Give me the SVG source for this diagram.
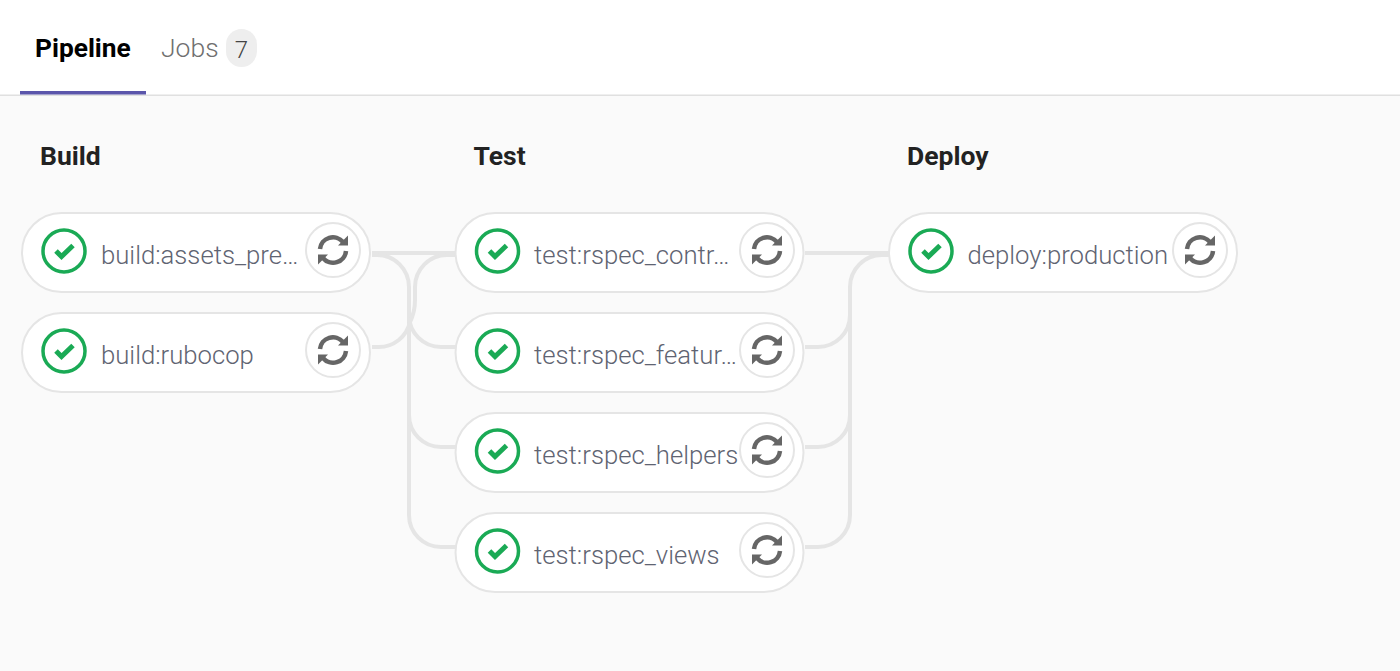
<svg xmlns="http://www.w3.org/2000/svg" width="1400" height="671" viewBox="0 0 1400 671">
  <defs>
    <style>
      text { font-family: Roboto, "Liberation Sans", sans-serif; }
      .stage { font-size: 26.500px; font-weight: 700; fill: #222222; }
      .job { font-size: 25.700px; font-weight: 300; fill: #5f6472; }
      .pill { fill: #ffffff; stroke: #e5e5e5; stroke-width: 2; }
      .retry { fill: #ffffff; stroke: #e5e5e5; stroke-width: 2; }
      .conn { fill: none; stroke: #e5e5e5; stroke-width: 4; }
      .status { fill: none; stroke: #1aaa55; stroke-width: 3.500; }
      .tick { fill: none; stroke: #1aaa55; stroke-width: 5; }
      .arc { fill: none; stroke: #666666; stroke-width: 4.500; }
      .head { fill: #666666; }
    </style>
    <g id="status-icon">
      <circle class="status" cx="0" cy="0" r="21"/>
      <path class="tick" d="M-8,0 L-2.500,5.500 L9,-5.500"/>
    </g>
    <g id="retry-icon">
      <circle class="retry" cx="0" cy="0" r="27"/>
      <path class="arc" d="M-13,-1 A13,13 0 0 1 10,-8"/>
      <path class="arc" d="M13,1 A13,13 0 0 1 -10,8"/>
      <path class="head" d="M15,-14.500 V-4.500 H5 Z"/>
      <path class="head" d="M-15,14.500 V4.500 H-5 Z"/>
    </g>
  </defs>

  <rect x="0" y="0" width="1400" height="671" fill="#ffffff"/>
  <rect x="0" y="96" width="1400" height="575" fill="#fafafa"/>
  <rect x="0" y="94.500" width="1400" height="1.500" fill="#e0e0e0"/>
  <rect x="20" y="91" width="126" height="3.500" fill="#5b56ab"/>

  <g id="tabs">
    <text x="35" y="57" fill="#000000" style="font-size:26.300px;font-weight:700">Pipeline</text>
    <text x="161" y="57" fill="#707070" style="font-size:26.500px;font-weight:300">Jobs</text>
    <rect x="226" y="29" width="31" height="38" rx="15.500" fill="#eeeeee"/>
    <text x="241.500" y="58" text-anchor="middle" fill="#444444" style="font-size:24px;font-weight:300">7</text>
  </g>

  <g id="connectors">
    <path class="conn" d="M372,253 H456"/>
    <path class="conn" d="M372,255 H377 A32,32 0 0 1 409,287 V515 A32,32 0 0 0 441,547 H456"/>
    <path class="conn" d="M409,315 A32,32 0 0 0 441,347 H456"/>
    <path class="conn" d="M409,415 A32,32 0 0 0 441,447 H456"/>
    <path class="conn" d="M372,347 H378 A32,32 0 0 0 410,322 Q415,312 415,300 V287 A32,32 0 0 1 447,255 H456"/>
    <path class="conn" d="M805,253 H889"/>
    <path class="conn" d="M889,255 H882 A32,32 0 0 0 850,287 V515 A32,32 0 0 1 818,547 H805"/>
    <path class="conn" d="M850,315 A32,32 0 0 1 818,347 H805"/>
    <path class="conn" d="M850,415 A32,32 0 0 1 818,447 H805"/>
  </g>

  <g id="stage-build"><text class="stage" x="40" y="165">Build</text></g>
  <g id="stage-test"><text class="stage" x="473.500" y="165">Test</text></g>
  <g id="stage-deploy"><text class="stage" x="907" y="165">Deploy</text></g>

  <g id="node-build-assets">
    <rect class="pill" x="22" y="213" width="348" height="79" rx="39.500"/>
    <use href="#status-icon" x="64" y="251"/>
    <text class="job" x="101" y="264">build:assets_pre…</text>
    <use href="#retry-icon" x="333" y="250"/>
  </g>
  <g id="node-build-rubocop">
    <rect class="pill" x="22" y="313" width="348" height="79" rx="39.500"/>
    <use href="#status-icon" x="64" y="351"/>
    <text class="job" x="101" y="364">build:rubocop</text>
    <use href="#retry-icon" x="333" y="350"/>
  </g>
  <g id="node-test-controllers">
    <rect class="pill" x="455.500" y="213" width="348" height="79" rx="39.500"/>
    <use href="#status-icon" x="497.500" y="251"/>
    <text class="job" x="534" y="264">test:rspec_contr…</text>
    <use href="#retry-icon" x="767" y="250"/>
  </g>
  <g id="node-test-features">
    <rect class="pill" x="455.500" y="313" width="348" height="79" rx="39.500"/>
    <use href="#status-icon" x="497.500" y="351"/>
    <text class="job" x="534" y="364">test:rspec_featur…</text>
    <use href="#retry-icon" x="767" y="350"/>
  </g>
  <g id="node-test-helpers">
    <rect class="pill" x="455.500" y="413" width="348" height="79" rx="39.500"/>
    <use href="#status-icon" x="497.500" y="451"/>
    <text class="job" x="534" y="464">test:rspec_helpers</text>
    <use href="#retry-icon" x="767" y="450"/>
  </g>
  <g id="node-test-views">
    <rect class="pill" x="455.500" y="513" width="348" height="79" rx="39.500"/>
    <use href="#status-icon" x="497.500" y="551"/>
    <text class="job" x="534" y="564">test:rspec_views</text>
    <use href="#retry-icon" x="767" y="550"/>
  </g>
  <g id="node-deploy-production">
    <rect class="pill" x="889" y="213" width="348" height="79" rx="39.500"/>
    <use href="#status-icon" x="931" y="251"/>
    <text class="job" x="967.500" y="264">deploy:production</text>
    <use href="#retry-icon" x="1200" y="250"/>
  </g>
</svg>
